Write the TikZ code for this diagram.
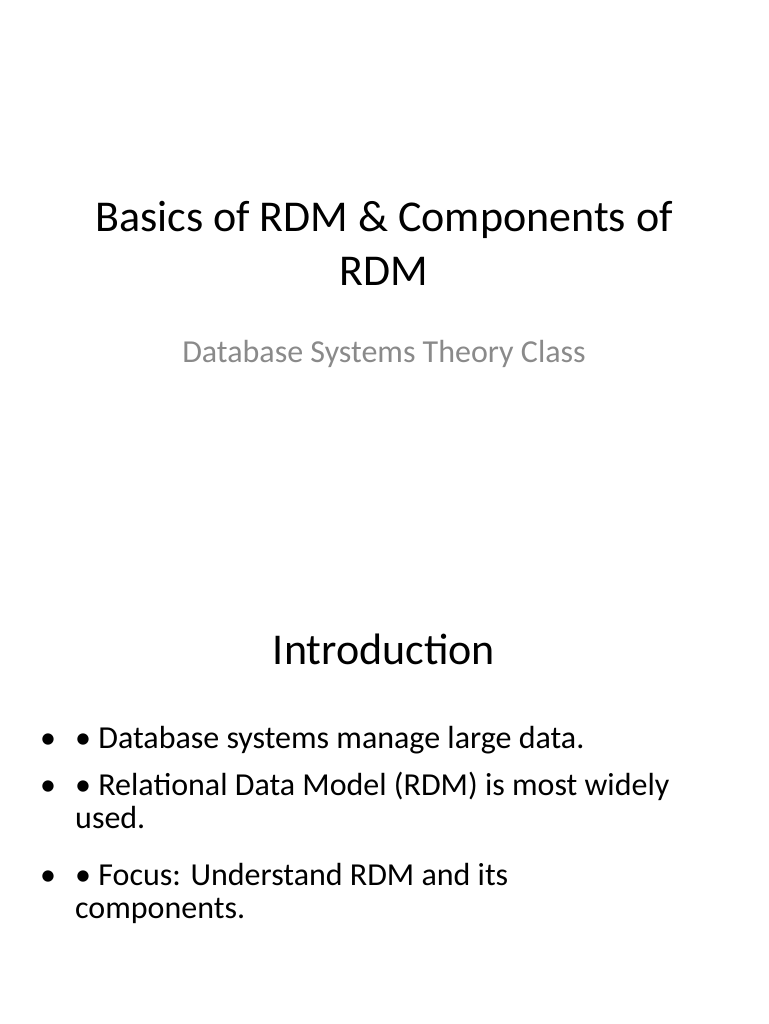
\documentclass[tikz,border=0pt]{standalone}
\usepackage{fontspec}
\setmainfont{Carlito}
\begin{document}
\begin{tikzpicture}[x=1pt,y=-1pt,
  ttl/.style={anchor=base,inner sep=0pt,font=\fontsize{44}{53}\selectfont},
  sub/.style={anchor=base,inner sep=0pt,text=black!46,font=\fontsize{32}{38}\selectfont},
  bl/.style={anchor=base west,inner sep=0pt,font=\fontsize{32}{38}\selectfont}]
\useasboundingbox[fill=white] (0,0) rectangle (768,1024);
\node[ttl] (t1) at (384,232) {Basics of RDM \& Components of};
\node[ttl] (t2) at (384,285) {RDM};
\node[sub] (s) at (384,362) {Database Systems Theory Class};
\node[ttl] (intro) at (384,664) {Introduction};
\foreach \y in {748,795,885} \node[bl] at (40,\y) {•};
\node[bl] (b1) at (75,748) {• Database systems manage large data.};
\node[bl] (b2) at (75,795) {• Relational Data Model (RDM) is most widely};
\node[bl] (b2b) at (75,828) {used.};
\node[bl] (b3) at (75,885) {• Focus: Understand RDM and its};
\node[bl] (b3b) at (75,918) {components.};
\end{tikzpicture}
\end{document}
